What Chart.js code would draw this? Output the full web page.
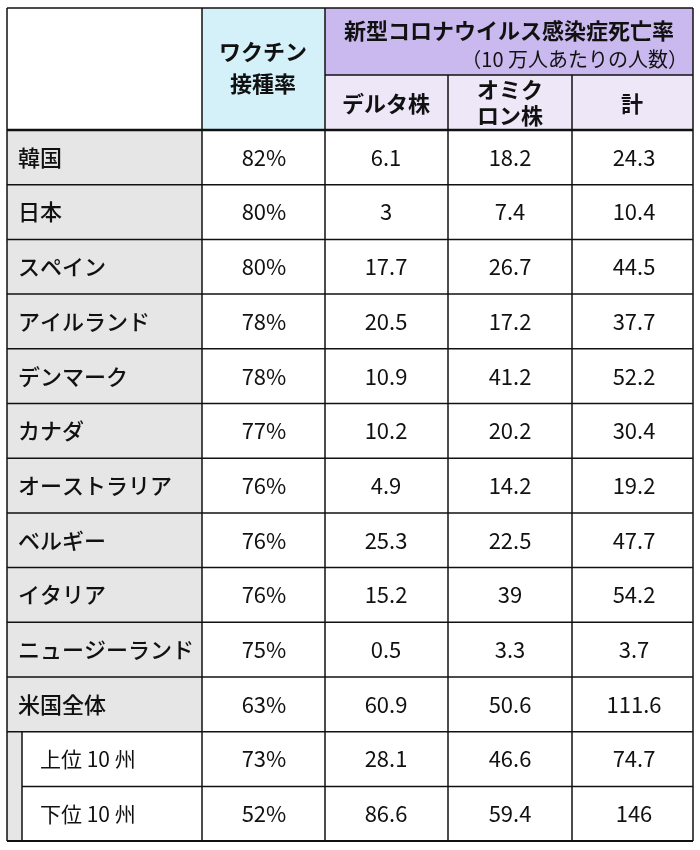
<!DOCTYPE html>
<html><head><meta charset="utf-8">
<script src="https://cdn.jsdelivr.net/npm/chart.js@4"></script>
<style>body{margin:0;background:#fff}</style>
</head><body>
<canvas id="tbl" width="700" height="850"></canvas>
<script>
// data
let countries = ["韓国","日本","スペイン","アイルランド","デンマーク","カナダ","オーストラリア","ベルギー","イタリア","ニュージーランド","米国全体","上位 10 州","下位 10 州"];
let vaccine = ["82%","80%","80%","78%","78%","77%","76%","76%","76%","75%","63%","73%","52%"];
let delta = ["6.1","3","17.7","20.5","10.9","10.2","4.9","25.3","15.2","0.5","60.9","28.1","86.6"];
let omicron = ["18.2","7.4","26.7","17.2","41.2","20.2","14.2","22.5","39","3.3","50.6","46.6","59.4"];
let total = ["24.3","10.4","44.5","37.7","52.2","30.4","19.2","47.7","54.2","3.7","111.6","74.7","146"];

// layout (in scale units = px)
let colEdges = [7, 202, 325, 448, 572, 693];
let top0 = 8, headMid = 75, headBot = 130, rowH = 54.7;
let F = '"Noto Sans CJK JP", "Noto Sans", sans-serif';

const tablePlugin = {
  id: "table",
  afterDraw(chart) {
    const c = chart.ctx, X = v => chart.scales.x.getPixelForValue(v), Y = v => chart.scales.y.getPixelForValue(v);
    const rect = (x0, y0, x1, y1, col) => { c.fillStyle = col; c.fillRect(X(x0), Y(y0), X(x1) - X(x0), Y(y1) - Y(y0)); };
    const line = (x0, y0, x1, y1, w) => { c.strokeStyle = "#111"; c.lineWidth = w || 1.5; c.beginPath(); c.moveTo(X(x0), Y(y0)); c.lineTo(X(x1), Y(y1)); c.stroke(); };
    const text = (s, x, y, align, font) => { c.fillStyle = "#111"; c.font = font; c.textAlign = align; c.textBaseline = "middle"; c.fillText(s, X(x), Y(y)); };
    const bottom = headBot + rowH * countries.length;

    // backgrounds
    rect(colEdges[1], top0, colEdges[2], headBot, "#d4f1fa");
    rect(colEdges[2], top0, colEdges[5], headMid, "#c9b9ee");
    rect(colEdges[2], headMid, colEdges[5], headBot, "#ede7f8");
    rect(colEdges[0], headBot, colEdges[1], headBot + rowH * 11, "#e6e6e6");
    rect(colEdges[0], headBot + rowH * 11, 22, bottom, "#e6e6e6");

    // grid
    line(colEdges[0], top0, colEdges[5], top0);
    line(colEdges[0], top0, colEdges[0], bottom);
    line(colEdges[5], top0, colEdges[5], bottom);
    line(colEdges[1], top0, colEdges[1], bottom);
    line(colEdges[2], top0, colEdges[2], bottom);
    line(colEdges[2], headMid, colEdges[5], headMid);
    line(colEdges[3], headMid, colEdges[3], bottom);
    line(colEdges[4], headMid, colEdges[4], bottom);
    line(colEdges[0], headBot, colEdges[5], headBot, 2.5);
    for (let i = 1; i < countries.length; i++) {
      line(i > 11 ? 22 : colEdges[0], headBot + rowH * i, colEdges[5], headBot + rowH * i);
    }
    line(colEdges[0], bottom, colEdges[5], bottom, 2);
    line(22, headBot + rowH * 11, 22, bottom);

    // header text
    const hb = "bold 22px " + F, hn = "20px " + F;
    text("ワクチン", 263, 52, "center", hb);
    text("接種率", 263, 84, "center", hb);
    text("新型コロナウイルス感染症死亡率", 509, 31, "center", hb);
    text("（10 万人あたりの人数）", 688, 59, "right", hn);
    text("デルタ株", 386, 104, "center", hb);
    text("オミク", 510, 90, "center", hb);
    text("ロン株", 510, 116, "center", hb);
    text("計", 632, 104, "center", hb);

    // body
    const bf = "22px " + F, lf = "500 22px " + F;
    countries.forEach((name, i) => {
      const cy = headBot + rowH * i + rowH / 2;
      text(name, i > 10 ? 40 : 18, cy, "left", i > 10 ? "21px " + F : lf);
      text(vaccine[i], 264, cy, "center", bf);
      text(delta[i], 386, cy, "center", bf);
      text(omicron[i], 510, cy, "center", bf);
      text(total[i], 634, cy, "center", bf);
    });
  }
};

new Chart("tbl", {
  type: "scatter",
  data: { datasets: [{ data: [] }] },
  options: {
    responsive: false,
    animation: false,
    layout: { padding: 0 },
    plugins: { legend: { display: false }, tooltip: { enabled: false } },
    scales: {
      x: { type: "linear", min: 0, max: 700, display: false },
      y: { type: "linear", min: 0, max: 850, reverse: true, display: false }
    }
  },
  plugins: [tablePlugin]
});
</script>
</body></html>
